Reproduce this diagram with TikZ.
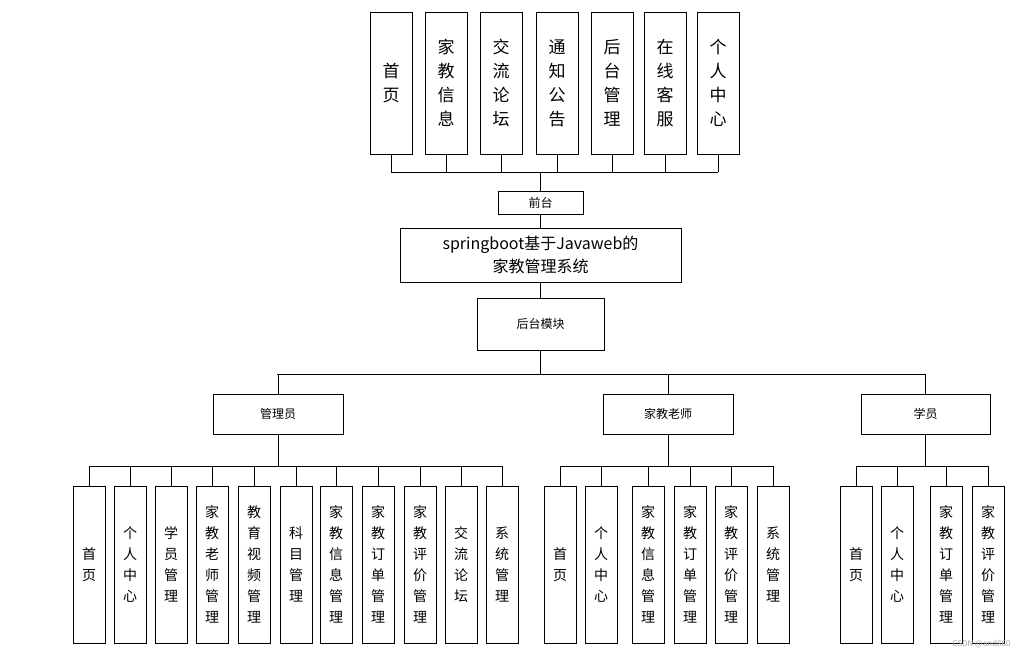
\documentclass[tikz,border=0pt]{standalone}
\usepackage{fontspec}
\setmainfont{Noto Sans CJK SC}
\begin{document}
\begin{tikzpicture}[x=1pt,y=-1pt,
  box/.style={draw,line width=0.8pt,inner sep=0pt,align=center},
  tbox/.style={box,minimum width=42pt,minimum height=142pt,font=\fontsize{17}{24}\selectfont},
  bbox/.style={box,minimum width=32pt,minimum height=157pt,font=\fontsize{14}{21}\selectfont},
  hbox/.style={box,font=\fontsize{12}{14}\selectfont},
  ln/.style={line width=0.8pt}]
\useasboundingbox (0,0) rectangle (1030,657);
% top
\foreach \n/\x/\t in {t1/391/首\\页, t2/446/家\\教\\信\\息, t3/501/交\\流\\论\\坛, t4/557/通\\知\\公\\告, t5/612/后\\台\\管\\理, t6/665/在\\线\\客\\服, t7/718/个\\人\\中\\心}
  {\node[tbox] (\n) at (\x,83) {\t};
   \draw[ln] (\n.south) -- (\x,172);}
\draw[ln] (391,172) -- (718,172);
\node[hbox,minimum width=85pt,minimum height=23pt] (qt) at (540.5,202.5) {前台};
\node[hbox,minimum width=281pt,minimum height=54pt,font=\fontsize{16}{23}\selectfont] (main) at (540.5,255) {springboot基于Javaweb的\\家教管理系统};
\node[hbox,minimum width=127pt,minimum height=52pt] (ht) at (540.5,324) {后台模块};
\coordinate (tb) at (540.5,172);
\draw[ln] (tb) -- (qt.north);
\draw[ln] (qt.south) -- (main.north);
\draw[ln] (main.south) -- (ht.north);
\coordinate (mb) at (540.5,374);
\draw[ln] (ht.south) -- (mb);
\draw[ln] (277,374) -- (925,374);
\node[hbox,minimum width=130pt,minimum height=40pt] (gly) at (278,414) {管理员};
\node[hbox,minimum width=130pt,minimum height=40pt] (js) at (668,414) {家教老师};
\node[hbox,minimum width=129pt,minimum height=40pt] (xy) at (925.5,414) {学员};
\foreach \n/\x in {gly/278,js/668,xy/925.5}{\draw[ln] (\x,374) -- (\n.north); \draw[ln] (\n.south) -- (\x,466);}
% admin
\foreach \n/\x/\t in {a1/89/首\\页, a2/130/个\\人\\中\\心, a3/171/学\\员\\管\\理, a4/212/家\\教\\老\\师\\管\\理, a5/254/教\\育\\视\\频\\管\\理, a6/296/科\\目\\管\\理, a7/336/家\\教\\信\\息\\管\\理, a8/378/家\\教\\订\\单\\管\\理, a9/420/家\\教\\评\\价\\管\\理, a10/461/交\\流\\论\\坛, a11/502/系\\统\\管\\理,
  b1/560/首\\页, b2/601/个\\人\\中\\心, b3/648/家\\教\\信\\息\\管\\理, b4/690/家\\教\\订\\单\\管\\理, b5/731/家\\教\\评\\价\\管\\理, b6/773/系\\统\\管\\理,
  c1/856/首\\页, c2/897/个\\人\\中\\心, c3/946/家\\教\\订\\单\\管\\理, c4/988/家\\教\\评\\价\\管\\理}
  {\node[bbox] (\n) at (\x,564.5) {\t};
   \draw[ln] (\x,466) -- (\n.north);}
\draw[ln] (89,466) -- (502,466);
\draw[ln] (560,466) -- (773,466);
\draw[ln] (856,466) -- (988,466);
\node[font=\fontsize{8}{9}\selectfont,text=gray!70,anchor=east] (wm) at (1014,644) {CSDN @and860};
\end{tikzpicture}
\end{document}
